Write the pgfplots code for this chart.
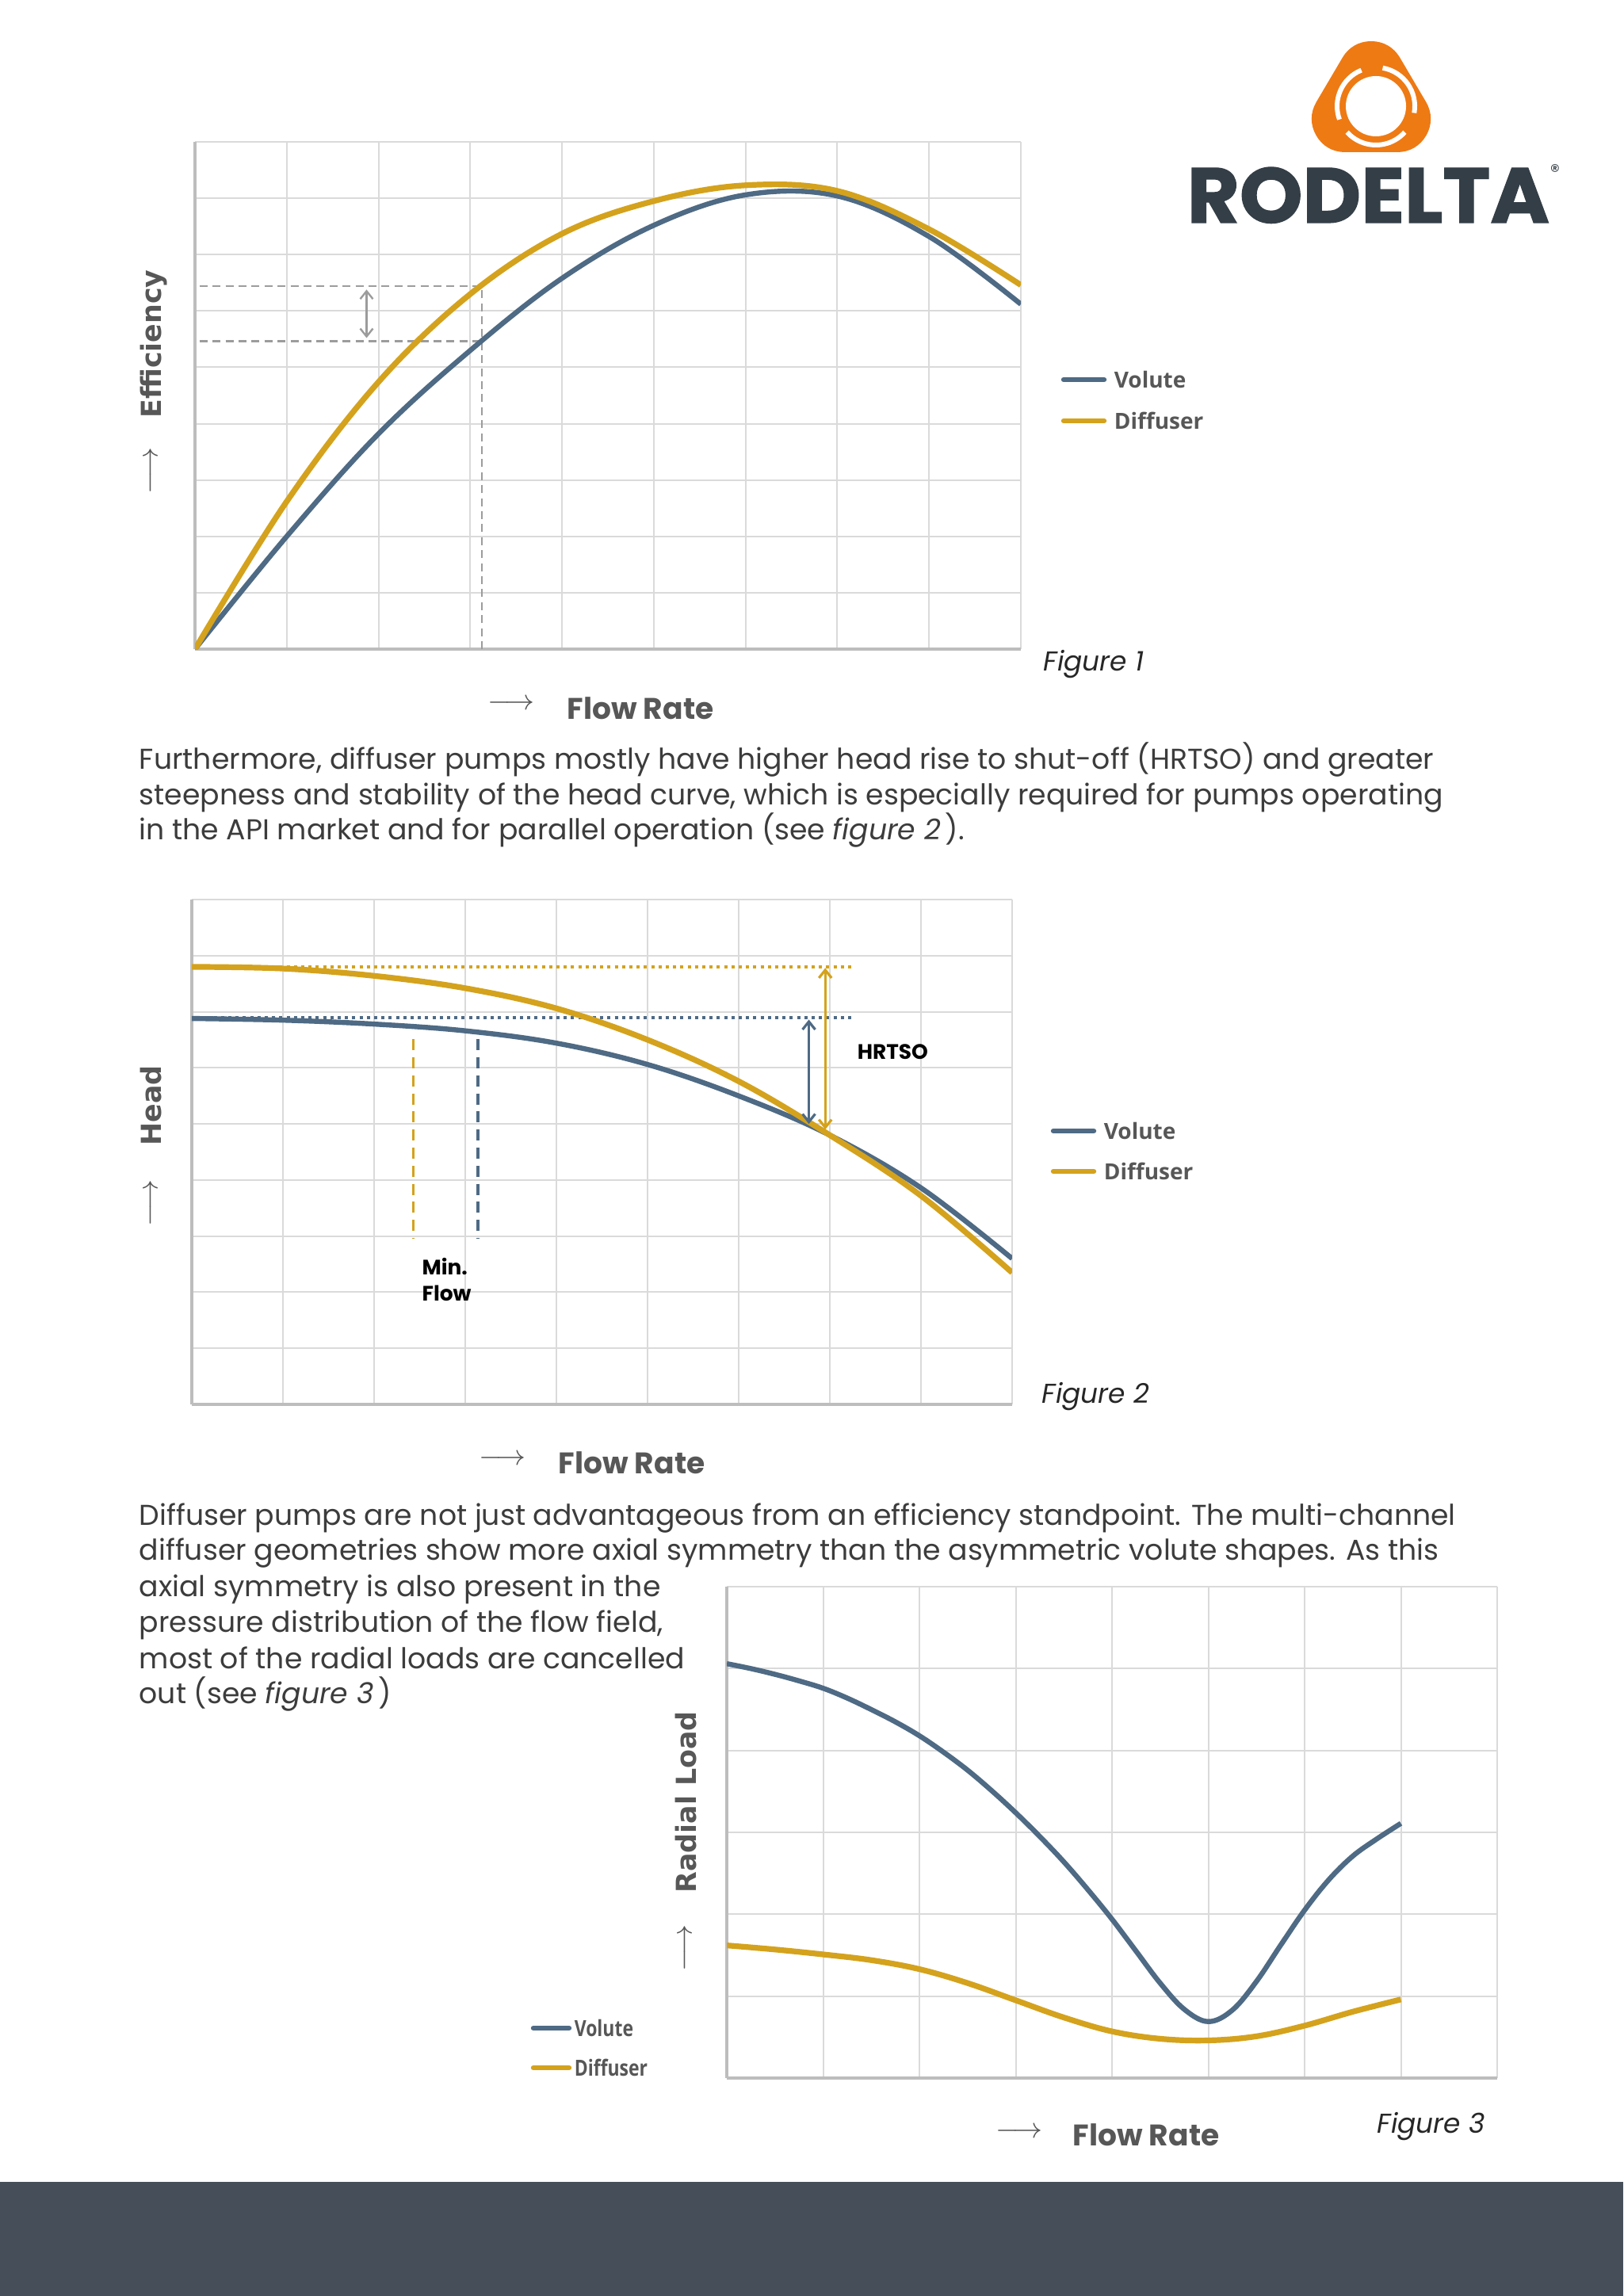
\documentclass[border=0pt]{standalone}
\usepackage{pgfplots}
\pgfplotsset{compat=1.18}
\usepackage{fontspec}
\setmainfont{Poppins}
\newfontfamily\dvs{DejaVu Sans}
\newfontfamily\osans{Open Sans}
\newfontfamily\logofont{Poppins}[BoldFeatures={FakeBold=1.3}]
\usetikzlibrary{arrows.meta}
\definecolor{volute}{HTML}{4E6A84}
\definecolor{diffuser}{HTML}{D4A21C}
\definecolor{gridc}{HTML}{DADADA}
\definecolor{axc}{HTML}{BDBDBD}
\definecolor{txt}{HTML}{3C3C3C}
\definecolor{lbl}{HTML}{575757}
\definecolor{band}{HTML}{464F59}
\definecolor{logoor}{HTML}{EE7A14}
\definecolor{logodk}{HTML}{343E46}
\definecolor{dashc}{HTML}{9C9C9C}

\pgfplotsset{fig/.style={scale only axis, xmin=0, ymin=0, grid=major,
  grid style={draw=gridc, line width=0.5pt},
  axis x line*=bottom, axis y line*=left,
  axis line style={-, draw=axc, line width=0.8pt},
  xticklabels={}, yticklabels={}, major tick length=0pt, anchor=south west},
  vol/.style={volute, line width=1.6pt, smooth, tension=0.6, no marks},
  dif/.style={diffuser, line width=1.8pt, smooth, tension=0.6, no marks}}

\newcommand\bodyfont{\fontsize{9.05}{11}\selectfont\color{txt}}
\newcommand\lblfont{\dvs\bfseries\fontsize{8.7}{10}\selectfont\color{lbl}}
\newcommand\flowfont{\bfseries\fontsize{9.4}{10}\selectfont\color{lbl}}
\newcommand\legfont{\osans\bfseries\fontsize{7}{8}\selectfont\color{lbl}}
\newcommand\figfont{\itshape\fontsize{8.6}{10}\selectfont\color{black!85}}

\begin{document}
\begin{tikzpicture}
\path[use as bounding box, fill=white] (0pt,0pt) rectangle (512pt,-724.25pt);

% ---------- Figure 1 ----------
\begin{axis}[fig, at={(61.5pt,-204.75pt)}, width=260.5pt, height=160pt,
  xmax=9, ymax=9, xtick={0,...,9}, ytick={0,...,9}]
\addplot[dashc, line width=0.7pt, dash pattern=on 2.5pt off 1.6pt] coordinates {(0.05,6.44) (3.13,6.44)};
\addplot[dashc, line width=0.7pt, dash pattern=on 2.5pt off 1.6pt] coordinates {(0.05,5.46) (3.13,5.46)};
\addplot[dashc, line width=0.5pt, dash pattern=on 2.5pt off 1.6pt] coordinates {(3.13,0) (3.13,6.44)};
\addplot[dashc, line width=0.6pt, {Straight Barb[length=2.5pt,width=4pt]}-{Straight Barb[length=2.5pt,width=4pt]}] coordinates {(1.87,6.38) (1.87,5.52)};
\addplot[vol] coordinates {(0,0) (1,2.0) (2,3.82) (3,5.3) (4,6.58) (5,7.52) (6,8.06) (7,8.04) (8,7.32) (9,6.12)};
\addplot[dif] coordinates {(0,0) (1,2.62) (2,4.74) (3,6.3) (4,7.37) (5,7.95) (6,8.23) (7,8.13) (8,7.45) (9,6.46)};
\end{axis}

% ---------- Figure 2 ----------
\begin{axis}[fig, at={(60.5pt,-443pt)}, width=258.75pt, height=159.25pt,
  xmax=9, ymax=9, xtick={0,...,9}, ytick={0,...,9}]
\addplot[diffuser, line width=1pt, dash pattern=on 1pt off 1.3pt] coordinates {(0,7.8) (7.26,7.8)};
\addplot[volute, line width=1pt, dash pattern=on 1pt off 1.3pt] coordinates {(0,6.89) (7.26,6.89)};
\addplot[diffuser, line width=0.9pt, dash pattern=on 3.5pt off 2.2pt] coordinates {(2.43,6.51) (2.43,2.96)};
\addplot[volute, line width=0.9pt, dash pattern=on 3.5pt off 2.2pt] coordinates {(3.14,6.51) (3.14,2.96)};
\addplot[vol] coordinates {(0,6.88) (1,6.85) (2,6.78) (3,6.66) (4,6.44) (5,6.06) (6,5.5) (7,4.8) (8,3.86) (9,2.6)};
\addplot[dif] coordinates {(0,7.8) (1,7.77) (2,7.64) (3,7.42) (4,7.06) (5,6.5) (6,5.76) (7,4.8) (8,3.72) (9,2.35)};
\addplot[volute, line width=0.8pt, {Straight Barb[length=2.5pt,width=4pt]}-{Straight Barb[length=2.5pt,width=4pt]}] coordinates {(6.77,6.86) (6.77,5.0)};
\addplot[diffuser, line width=0.8pt, {Straight Barb[length=2.5pt,width=4pt]}-{Straight Barb[length=2.5pt,width=4pt]}] coordinates {(6.95,7.78) (6.95,4.9)};
\node[anchor=west, font=\bfseries\fontsize{6.6}{8}\selectfont] at (axis cs:7.18,6.28) {HRTSO};
\node[anchor=north west, align=left, inner sep=0pt, font=\bfseries\fontsize{6.6}{8.3}\selectfont] at (axis cs:2.52,2.62) {Min.\\Flow};
\end{axis}

% ---------- Figure 3 ----------
\begin{axis}[fig, at={(229.25pt,-655.5pt)}, width=243pt, height=155pt,
  xmax=8, ymax=6, xtick={0,...,8}, ytick={0,...,6}]
\addplot[vol] coordinates {(0,5.06) (0.25,5.0) (0.5,4.93) (0.75,4.85) (1,4.76) (1.25,4.64) (1.5,4.5) (1.75,4.35) (2,4.18) (2.25,3.98) (2.5,3.76) (2.75,3.51) (3,3.24) (3.25,2.95) (3.5,2.64) (3.75,2.3) (4,1.94) (4.25,1.55) (4.5,1.16) (4.75,0.84) (5,0.69) (5.25,0.83) (5.5,1.18) (5.75,1.62) (6,2.05) (6.25,2.42) (6.5,2.71) (6.75,2.92) (7,3.11)};
\addplot[dif] coordinates {(0,1.62) (0.5,1.57) (1,1.51) (1.5,1.44) (2,1.33) (2.5,1.16) (3,0.95) (3.5,0.74) (4,0.57) (4.5,0.48) (5,0.46) (5.5,0.51) (6,0.64) (6.5,0.81) (7,0.96)};
\end{axis}

\begin{scope}[x=0.25pt, y=-0.25pt]
% bottom band
\fill[band] (0,2753) rectangle (2048,2897);

% logo
\filldraw[logoor, line width=21pt, line join=round] (1730,94) -- (1697,150) -- (1763,150) -- cycle;
\fill[white] (1736,134) circle [radius=38];
\draw[white, line width=1.5pt] (1736,134) ++(138:49) arc[start angle=138, end angle=42, radius=49];
\draw[white, line width=1.5pt] (1736,134) ++(248:49) arc[start angle=248, end angle=160, radius=49];
\draw[white, line width=1.5pt] (1736,134) ++(10:49) arc[start angle=10, end angle=-80, radius=49];
\node[anchor=base west, inner sep=0pt, font=\logofont\bfseries\fontsize{24.6}{26}\selectfont, text=logodk] at (1497,281) {\scalebox{1.03}[1]{RODELTA}};
\node[anchor=center, inner sep=0pt, font=\fontsize{6}{7}\selectfont, text=logodk] at (1962,216) {\textregistered};

% figure 1 labels
\node[rotate=90, anchor=base, inner sep=0pt, font=\lblfont] at (203,434) {Efficiency};
\node[rotate=90, anchor=center, inner sep=0pt, font=\fontsize{9}{10}\selectfont\color{lbl}] at (192,594) {$\longrightarrow$};
\node[anchor=center, inner sep=0pt, font=\fontsize{9}{10}\selectfont\color{lbl}] at (645,889) {$\longrightarrow$};
\node[anchor=base west, inner sep=0pt, font=\flowfont] at (715,907) {Flow Rate};
\node[anchor=base west, inner sep=0pt, font=\figfont] at (1316,846) {Figure 1};
\draw[volute, line width=1.6pt, line cap=round] (1342,479) -- (1393,479);
\draw[diffuser, line width=1.6pt, line cap=round] (1342,531) -- (1393,531);
\node[anchor=west, inner sep=0pt, font=\legfont] at (1405,479) {Volute};
\node[anchor=west, inner sep=0pt, font=\legfont] at (1405,531) {Diffuser};

% paragraph 1
\node[anchor=base west, inner sep=0pt, font=\bodyfont] at (175,970) {Furthermore, diffuser pumps mostly have higher head rise to shut-off (HRTSO) and greater};
\node[anchor=base west, inner sep=0pt, font=\bodyfont] at (175,1015) {steepness and stability of the head curve, which is especially required for pumps operating};
\node[anchor=base west, inner sep=0pt, font=\bodyfont] at (175,1059) {in the API market and for parallel operation (see \textit{figure 2}\,).};

% figure 2 labels
\node[rotate=90, anchor=base, inner sep=0pt, font=\lblfont] at (203,1395) {Head};
\node[rotate=90, anchor=center, inner sep=0pt, font=\fontsize{9}{10}\selectfont\color{lbl}] at (192,1518) {$\longrightarrow$};
\node[anchor=center, inner sep=0pt, font=\fontsize{9}{10}\selectfont\color{lbl}] at (634,1842) {$\longrightarrow$};
\node[anchor=base west, inner sep=0pt, font=\flowfont] at (704,1859) {Flow Rate};
\node[anchor=base west, inner sep=0pt, font=\figfont] at (1314,1770) {Figure 2};
\draw[volute, line width=1.6pt, line cap=round] (1329,1427) -- (1380,1427);
\draw[diffuser, line width=1.6pt, line cap=round] (1329,1478) -- (1380,1478);
\node[anchor=west, inner sep=0pt, font=\legfont] at (1392,1427) {Volute};
\node[anchor=west, inner sep=0pt, font=\legfont] at (1392,1478) {Diffuser};

% paragraph 2
\node[anchor=base west, inner sep=0pt, font=\bodyfont] at (175,1924) {Diffuser pumps are not just advantageous from an efficiency standpoint. The multi-channel};
\node[anchor=base west, inner sep=0pt, font=\bodyfont] at (175,1968) {diffuser geometries show more axial symmetry than the asymmetric volute shapes. As this};
\node[anchor=base west, inner sep=0pt, font=\bodyfont] at (175,2014) {axial symmetry is also present in the};
\node[anchor=base west, inner sep=0pt, font=\bodyfont] at (175,2059) {pressure distribution of the flow field,};
\node[anchor=base west, inner sep=0pt, font=\bodyfont] at (175,2105) {most of the radial loads are cancelled};
\node[anchor=base west, inner sep=0pt, font=\bodyfont] at (175,2149) {out (see \textit{figure 3}\,)};

% figure 3 labels
\node[rotate=90, anchor=base, inner sep=0pt, font=\lblfont] at (878,2274) {Radial Load};
\node[rotate=90, anchor=center, inner sep=0pt, font=\fontsize{9}{10}\selectfont\color{lbl}] at (866,2458) {$\longrightarrow$};
\node[anchor=center, inner sep=0pt, font=\fontsize{9}{10}\selectfont\color{lbl}] at (1286,2691) {$\longrightarrow$};
\node[anchor=base west, inner sep=0pt, font=\flowfont] at (1353,2707) {Flow Rate};
\node[anchor=base west, inner sep=0pt, font=\figfont] at (1737,2691) {Figure 3};
\draw[volute, line width=1.6pt, line cap=round] (673,2559) -- (718,2559);
\draw[diffuser, line width=1.6pt, line cap=round] (673,2609) -- (718,2609);
\node[anchor=west, inner sep=0pt, font=\legfont] at (724,2559) {\scalebox{0.82}[1]{Volute}};
\node[anchor=west, inner sep=0pt, font=\legfont] at (724,2609) {\scalebox{0.82}[1]{Diffuser}};
\end{scope}
\end{tikzpicture}
\end{document}
